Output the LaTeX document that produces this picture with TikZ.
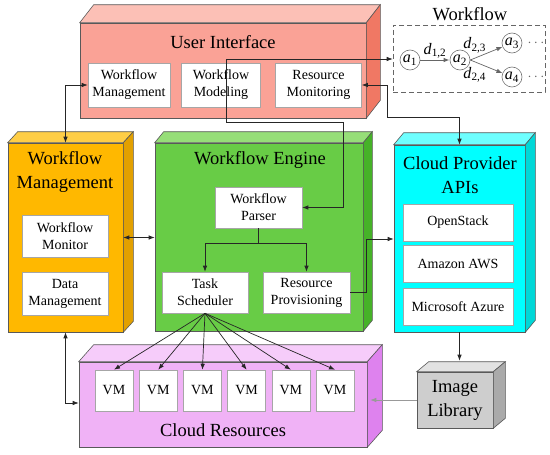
\documentclass[tikz,border=0pt]{standalone}
\usepackage{fontspec}
\setmainfont{Liberation Serif}
\usepackage{tikz}
\usetikzlibrary{arrows.meta,calc}

% face colours of the blocks
\definecolor{uifront}{RGB}{250,162,150}
\definecolor{uitop}{RGB}{252,192,182}
\definecolor{uiside}{RGB}{240,120,100}
\definecolor{mgfront}{RGB}{255,184,0}
\definecolor{mgtop}{RGB}{255,206,70}
\definecolor{mgside}{RGB}{226,160,0}
\definecolor{enfront}{RGB}{104,204,70}
\definecolor{entop}{RGB}{150,222,120}
\definecolor{enside}{RGB}{70,178,40}
\definecolor{apfront}{RGB}{0,255,255}
\definecolor{aptop}{RGB}{110,255,255}
\definecolor{apside}{RGB}{0,215,215}
\definecolor{crfront}{RGB}{240,178,246}
\definecolor{crtop}{RGB}{246,204,250}
\definecolor{crside}{RGB}{222,130,238}
\definecolor{ilfront}{RGB}{206,206,206}
\definecolor{iltop}{RGB}{226,226,226}
\definecolor{ilside}{RGB}{170,170,170}

% top and side faces behind a front node: node, depth x, depth y, top, side
\newcommand{\cuboid}[5]{%
  \filldraw[draw=black!65, line width=0.6pt, fill=#4]
    (#1.north west) -- ++(#2,-#3) -- ($(#1.north east)+(#2,-#3)$) -- (#1.north east) -- cycle;
  \filldraw[draw=black!65, line width=0.6pt, fill=#5]
    (#1.north east) -- ++(#2,-#3) -- ($(#1.south east)+(#2,-#3)$) -- (#1.south east) -- cycle;
}
% italic letter with subscript, in the text font
\newcommand{\ivar}[2]{\textit{#1}\textsubscript{#2}}

\begin{document}
\begin{tikzpicture}[x=1pt,y=-1pt,
    face/.style={draw=black!65, line width=0.6pt, inner sep=0pt},
    title/.style={font=\fontsize{18.5}{24}\selectfont, align=center, inner sep=0pt},
    inbox/.style={draw=black!35, line width=0.6pt, fill=white, inner sep=0pt,
      align=center, font=\fontsize{14}{17}\selectfont},
    link/.style={line width=0.7pt, black!85, -{Latex[length=6pt,width=4.5pt]}},
    both/.style={link, {Latex[length=6pt,width=4.5pt]}-{Latex[length=6pt,width=4.5pt]}},
    task/.style={circle, draw=black!55, line width=0.6pt, minimum size=20pt,
      inner sep=0pt, font=\fontsize{16}{16}\selectfont},
    weight/.style={black, inner sep=1pt, font=\fontsize{16}{16}\selectfont}]
  \useasboundingbox (0,0) rectangle (550,455);

  % User interface
  \node[face, fill=uifront, minimum width=286, minimum height=95] (ui) at (223,70.5) {};
  \cuboid{ui}{14}{18}{uitop}{uiside}
  \node[title] (uititle) at (223,42) {User Interface};
  \node[inbox, minimum width=82, minimum height=44] (wm) at (129,85) {Workflow\\Management};
  \node[inbox, minimum width=79, minimum height=44] (model) at (221,85) {Workflow\\Modeling};
  \node[inbox, minimum width=86, minimum height=44] (monitor) at (318.5,85) {Resource\\Monitoring};

  % Workflow
  \node[title] (flowtitle) at (470,14) {Workflow};
  \node[draw=black!60, line width=0.6pt, dash pattern=on 5pt off 3pt,
    minimum width=152, minimum height=67] (flow) at (469,58.5) {};
  \node[task] (a1) at (410,60) {\ivar{a}{1}};
  \node[task] (a2) at (460,60) {\ivar{a}{2}};
  \node[task] (a3) at (512,43) {\ivar{a}{3}};
  \node[task] (a4) at (512,77) {\ivar{a}{4}};
  \node[black!60, font=\fontsize{14}{14}\selectfont] (dots3) at (536,43) {$\cdots$};
  \node[black!60, font=\fontsize{14}{14}\selectfont] (dots4) at (536,77) {$\cdots$};
  \draw[link, black!60, line width=1pt] (a1) -- (a2) node[midway, above, weight] {\ivar{d}{1,2}};
  \draw[link, black!60] (a2.east) -- (a3) node[midway, above left=-1pt, weight] {\ivar{d}{2,3}};
  \draw[link, black!60] (a2.east) -- (a4) node[midway, below left=-1pt, weight] {\ivar{d}{2,4}};

  % Workflow management
  \node[face, fill=mgfront, minimum width=115, minimum height=189] (mgmt) at (65.5,237.5) {};
  \cuboid{mgmt}{10}{11}{mgtop}{mgside}
  \node[title] (mgtitle) at (65,172) {Workflow\\Management};
  \node[inbox, minimum width=86, minimum height=42] (wmon) at (65,236) {Workflow\\Monitor};
  \node[inbox, minimum width=86, minimum height=43] (data) at (65,293.5) {Data\\Management};

  % Workflow engine
  \node[face, fill=enfront, minimum width=208, minimum height=188] (engine) at (259,237) {};
  \cuboid{engine}{9}{11}{entop}{enside}
  \node[title] (entitle) at (260,160) {Workflow Engine};
  \node[inbox, minimum width=87, minimum height=41] (parser) at (258.5,207.5) {Workflow\\Parser};
  \node[inbox, minimum width=86, minimum height=41] (sched) at (205,292.5) {Task\\Scheduler};
  \node[inbox, minimum width=87, minimum height=41] (prov) at (306.5,292.5) {Resource\\Provisioning};

  % Cloud provider APIs
  \node[face, fill=apfront, minimum width=131, minimum height=187] (apis) at (459.5,238.5) {};
  \cuboid{apis}{10}{12}{aptop}{apside}
  \node[title] (aptitle) at (460,175) {Cloud Provider\\APIs};
  \node[inbox, minimum width=110, minimum height=37] (open) at (458,222.5) {OpenStack};
  \node[inbox, minimum width=110, minimum height=37] (aws) at (458,264) {Amazon AWS};
  \node[inbox, minimum width=110, minimum height=37] (azure) at (458,306.5) {Microsoft Azure};

  % Cloud resources
  \node[face, fill=crfront, minimum width=288, minimum height=85] (res) at (223,404.5) {};
  \cuboid{res}{15}{17}{crtop}{crside}
  \node[title] (crtitle) at (223,430) {Cloud Resources};
  \foreach \i in {1,...,6}
    \node[inbox, minimum width=38, minimum height=41] (vm\i) at ({114+44.2*(\i-1)},390.5) {VM};

  % Image library
  \node[face, fill=ilfront, minimum width=76, minimum height=56] (lib) at (455,400) {};
  \cuboid{lib}{12}{10}{iltop}{ilside}
  \node[title] (iltitle) at (455,400) {Image\\Library};

  % Connectors
  \coordinate (split) at (226,59);
  \coordinate (bend) at (343,122);
  \coordinate (bend2) at (387,117);
  \coordinate (bend3) at (366,239);
  \coordinate (fork) at ($(parser.south)+(0,15)$);
  \coordinate (libtop) at ($(lib.north)+(4.5,-11)$);

  \draw[both] (wm.west) -| (mgmt.north);
  \draw[both] (mgmt.east) -- (mgmt.east -| engine.west);
  \draw[both] (mgmt.south) |- ([yshift=1.5pt]res.west);
  \draw[link] (split) -- (split -| flow.west);
  \draw[link] (split) |- (bend) |- (parser.east);
  \draw[both] (monitor.east) -| (bend2) -| (apis.north);
  \draw[link] (prov.east) -| (bend3) -- (bend3 -| apis.west);
  \draw[line width=0.7pt, black!85] (parser.south) -- (fork);
  \draw[link] (fork) -| (sched.north);
  \draw[link] (fork) -| (prov.north);
  \foreach \i in {1,...,6}
    \draw[link] (sched.south) -- (vm\i.north);
  \draw[link] (apis.south) -- (libtop);
  \draw[link, black!40] (lib.west) -- ([xshift=3pt]lib.west -| res.east);
\end{tikzpicture}
\end{document}
